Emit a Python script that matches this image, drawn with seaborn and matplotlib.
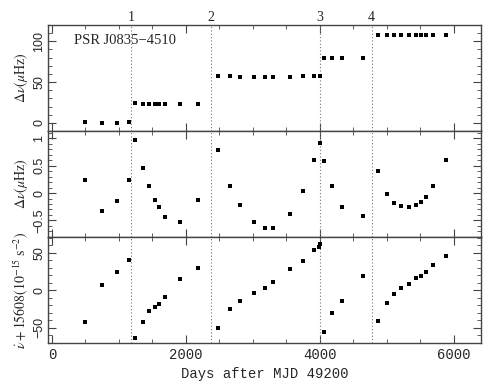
import numpy as np
import pandas as pd
import matplotlib
matplotlib.use("Agg")
import matplotlib.pyplot as plt
import seaborn as sns
from matplotlib.ticker import MultipleLocator

# -----------------------------------------
# Data
# -----------------------------------------
glitch_days = [1185, 2370, 3995, 4770]
glitch_labels = ["1", "2", "3", "4"]

days = [497, 755, 964, 1143,
        1243, 1352, 1446, 1531, 1596, 1690, 1914, 2177,
        2480, 2654, 2803, 3022, 3176, 3306, 3559, 3743, 3912, 3996,
        4066, 4185, 4334, 4643,
        4866, 5001, 5106, 5215, 5330, 5433, 5508, 5578, 5690, 5875]

dnu_total = [0.5, 0.0, 0.0, 0.5,
             24.0, 23.5, 23.3, 23.0, 23.0, 22.8, 22.5, 22.5,
             58.0, 57.0, 56.5, 56.0, 56.0, 56.0, 56.5, 57.0, 57.5, 58.0,
             80.0, 79.5, 79.0, 79.0,
             108.0, 107.5, 107.5, 107.5, 107.5, 107.5, 107.5, 107.5, 107.5, 108.0]

dnu_resid = [0.24, -0.32, -0.15, 0.24,
             0.96, 0.45, 0.12, -0.13, -0.26, -0.44, -0.53, -0.13,
             0.78, 0.12, -0.22, -0.53, -0.63, -0.64, -0.38, 0.03, 0.60, 0.92,
             0.59, 0.12, -0.26, -0.42,
             0.41, -0.01, -0.18, -0.24, -0.25, -0.21, -0.16, -0.07, 0.13, 0.61]

nudot_days = days[:21] + [3990, 4000] + days[22:]
nudot = [-42, 6.7, 25, 40,
         -63.5, -42, -28, -22, -18, -8.5, 15, 30,
         -50.7, -25.3, -13.8, -3, 3, 11, 28, 39.5, 53.8, 57, 61,
         -55.5, -30, -14.7, 19.5,
         -41, -16.5, -4.4, 3.5, 8.4, 16, 19, 25, 33.8, 45]

top_df = pd.DataFrame({"days": days, "val": dnu_total})
mid_df = pd.DataFrame({"days": days, "val": dnu_resid})
bot_df = pd.DataFrame({"days": nudot_days, "val": nudot})

# -----------------------------------------
# Style
# -----------------------------------------
sns.set_style("ticks")
plt.rcParams["font.family"] = ["DejaVu Serif"]
plt.rcParams["mathtext.fontset"] = "stix"
axis_col = "#444444"

fig, axes = plt.subplots(3, 1, figsize=(5.04, 3.91), dpi=100, sharex=True,
                         gridspec_kw=dict(hspace=0))
fig.subplots_adjust(left=0.095, right=0.954, top=0.936, bottom=0.123)

panels = [
    (top_df, (-10, 120), 50, 10, r"$\Delta\nu(\mu{\rm Hz})$"),
    (mid_df, (-0.8, 1.13), 0.5, 0.1, r"$\Delta\nu(\mu{\rm Hz})$"),
    (bot_df, (-70, 71), 50, 10, r"$\dot{\nu}+15608(10^{-15}\ {\rm s}^{-2})$"),
]

for ax, (df, ylim, major, minor, ylab) in zip(axes, panels):
    for g in glitch_days:
        ax.axvline(g, color="#777777", lw=0.8, ls=(0, (1, 2)), zorder=1)
    sns.scatterplot(data=df, x="days", y="val", ax=ax, marker="s", s=12,
                    color="black", linewidth=0, zorder=3)
    ax.set_xlim(-60, 6400)
    ax.set_ylim(*ylim)
    ax.xaxis.set_major_locator(MultipleLocator(2000))
    ax.xaxis.set_minor_locator(MultipleLocator(500))
    ax.yaxis.set_major_locator(MultipleLocator(major))
    ax.yaxis.set_minor_locator(MultipleLocator(minor))
    ax.tick_params(which="both", direction="in", top=True, right=True,
                   color=axis_col)
    ax.tick_params(which="major", length=6, width=0.8)
    ax.tick_params(which="minor", length=3, width=0.6)
    ax.tick_params(axis="y", labelsize=9, pad=2)
    for sp in ax.spines.values():
        sp.set_color(axis_col)
        sp.set_linewidth(1.0)
    ax.set_ylabel(ylab, fontsize=10, labelpad=2)
    ax.set_xlabel("")

axes[1].set_yticks([-0.5, 0, 0.5, 1])
axes[1].set_yticklabels(["\u22120.5", "0", "0.5", "1"])
axes[2].set_yticks([-50, 0, 50])
axes[2].set_yticklabels(["\u221250", "0", "50"])
for ax in axes:
    for lbl in ax.get_yticklabels():
        lbl.set_rotation(90)
        lbl.set_va("center")
        lbl.set_family("Liberation Sans")

axes[0].text(0.06, 0.82, "PSR J0835\u22124510", transform=axes[0].transAxes,
             fontsize=10.5, family="Liberation Serif")

for g, lab in zip(glitch_days, glitch_labels):
    axes[0].text(g, 121.5, lab, ha="center", va="bottom", fontsize=10,
                 family="Liberation Serif")

axes[2].tick_params(axis="x", labelsize=10)
for lbl in axes[2].get_xticklabels():
    lbl.set_family("Liberation Mono")
axes[2].set_xlabel("Days after MJD 49200", fontsize=10,
                   family="Liberation Mono", labelpad=4)

fig.align_ylabels(axes)
plt.savefig("out.png", dpi=100)
